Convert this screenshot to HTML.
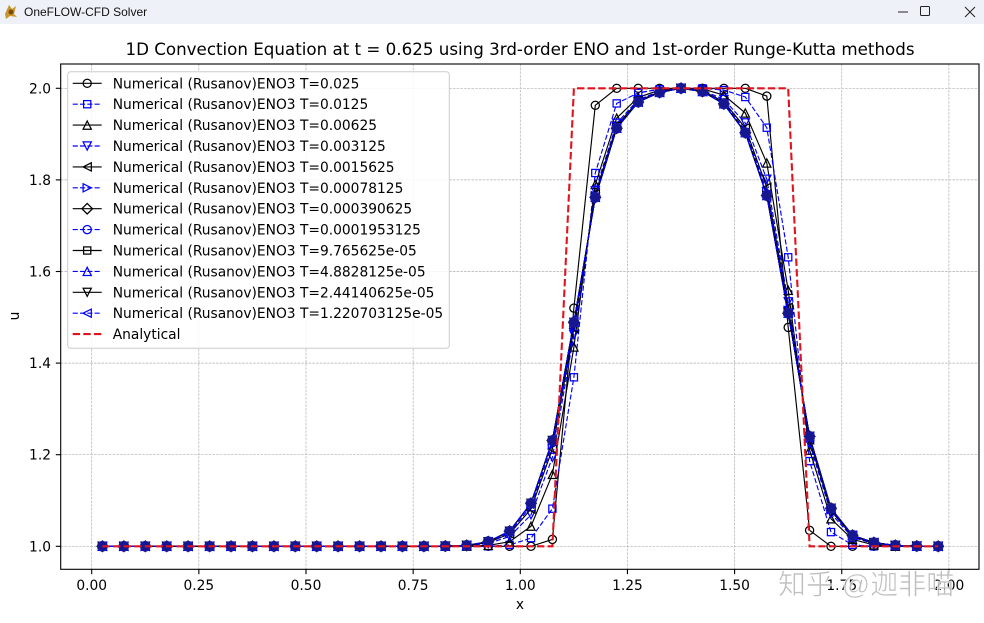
<!DOCTYPE html>
<html><head><meta charset="utf-8"><style>
html,body{margin:0;padding:0;background:#fff;}
svg{display:block;}
text{font-family:"DejaVu Sans","Liberation Sans",sans-serif;}
</style></head><body>
<svg width="984" height="623" viewBox="0 0 984 623" xmlns="http://www.w3.org/2000/svg">
<defs>
<marker id="ok" markerUnits="userSpaceOnUse" viewBox="0 0 14 14" markerWidth="14" markerHeight="14" refX="7" refY="7" orient="0" overflow="visible"><circle cx="7" cy="7" r="4.1" fill="none" stroke="#000" stroke-width="1.25"/></marker>
<marker id="ob" markerUnits="userSpaceOnUse" viewBox="0 0 14 14" markerWidth="14" markerHeight="14" refX="7" refY="7" orient="0" overflow="visible"><circle cx="7" cy="7" r="4.1" fill="none" stroke="#0000ff" stroke-width="1.25"/></marker>
<marker id="sk" markerUnits="userSpaceOnUse" viewBox="0 0 14 14" markerWidth="14" markerHeight="14" refX="7" refY="7" orient="0" overflow="visible"><rect x="3.4" y="3.4" width="7.2" height="7.2" fill="none" stroke="#000" stroke-width="1.25"/></marker>
<marker id="sb" markerUnits="userSpaceOnUse" viewBox="0 0 14 14" markerWidth="14" markerHeight="14" refX="7" refY="7" orient="0" overflow="visible"><rect x="3.4" y="3.4" width="7.2" height="7.2" fill="none" stroke="#0000ff" stroke-width="1.25"/></marker>
<marker id="uk" markerUnits="userSpaceOnUse" viewBox="0 0 14 14" markerWidth="14" markerHeight="14" refX="7" refY="7" orient="0" overflow="visible"><path d="M7 2.9L11.1 11.1L2.9 11.1Z" fill="none" stroke="#000" stroke-width="1.25"/></marker>
<marker id="ub" markerUnits="userSpaceOnUse" viewBox="0 0 14 14" markerWidth="14" markerHeight="14" refX="7" refY="7" orient="0" overflow="visible"><path d="M7 2.9L11.1 11.1L2.9 11.1Z" fill="none" stroke="#0000ff" stroke-width="1.25"/></marker>
<marker id="dk" markerUnits="userSpaceOnUse" viewBox="0 0 14 14" markerWidth="14" markerHeight="14" refX="7" refY="7" orient="0" overflow="visible"><path d="M7 11.1L11.1 2.9L2.9 2.9Z" fill="none" stroke="#000" stroke-width="1.25"/></marker>
<marker id="db" markerUnits="userSpaceOnUse" viewBox="0 0 14 14" markerWidth="14" markerHeight="14" refX="7" refY="7" orient="0" overflow="visible"><path d="M7 11.1L11.1 2.9L2.9 2.9Z" fill="none" stroke="#0000ff" stroke-width="1.25"/></marker>
<marker id="lk" markerUnits="userSpaceOnUse" viewBox="0 0 14 14" markerWidth="14" markerHeight="14" refX="7" refY="7" orient="0" overflow="visible"><path d="M2.9 7L11.1 2.9L11.1 11.1Z" fill="none" stroke="#000" stroke-width="1.25"/></marker>
<marker id="lb" markerUnits="userSpaceOnUse" viewBox="0 0 14 14" markerWidth="14" markerHeight="14" refX="7" refY="7" orient="0" overflow="visible"><path d="M2.9 7L11.1 2.9L11.1 11.1Z" fill="none" stroke="#0000ff" stroke-width="1.25"/></marker>
<marker id="rb" markerUnits="userSpaceOnUse" viewBox="0 0 14 14" markerWidth="14" markerHeight="14" refX="7" refY="7" orient="0" overflow="visible"><path d="M11.1 7L2.9 2.9L2.9 11.1Z" fill="none" stroke="#0000ff" stroke-width="1.25"/></marker>
<marker id="Dk" markerUnits="userSpaceOnUse" viewBox="0 0 14 14" markerWidth="14" markerHeight="14" refX="7" refY="7" orient="0" overflow="visible"><path d="M7 1.7L12.3 7L7 12.3L1.7 7Z" fill="none" stroke="#000" stroke-width="1.25"/></marker>
<marker id="blob" markerUnits="userSpaceOnUse" viewBox="0 0 14 14" markerWidth="14" markerHeight="14" refX="7" refY="7" orient="0" overflow="visible"><circle cx="7" cy="7" r="5.0" fill="#16168f" stroke="#2020b0" stroke-width="0.8"/><path d="M7 1.4L12.6 7L7 12.6L1.4 7Z" fill="#16168f"/></marker>
</defs>
<rect x="0" y="0" width="984" height="623" fill="#ffffff"/>
<!-- title bar -->
<rect x="0" y="0" width="984" height="24" fill="#eef2f8"/>
<path d="M5 14 L9 5 L12 9 L16 6 L14 14 L17 17 L10 16 L6 19 Z" fill="#c8962a"/>
<circle cx="11" cy="12" r="2.5" fill="#7a4a10"/>
<text x="24" y="16" font-size="12" style="font-family:'Liberation Sans','DejaVu Sans',sans-serif" fill="#111">OneFLOW-CFD Solver</text>
<line x1="898" y1="12" x2="908" y2="12" stroke="#222" stroke-width="1"/>
<rect x="920.5" y="6.5" width="9" height="9" fill="none" stroke="#222" stroke-width="1" rx="1"/>
<path d="M965 7 L975 17 M975 7 L965 17" stroke="#222" stroke-width="1"/>

<!-- title -->
<text x="520" y="55" font-size="16.7" text-anchor="middle" fill="#000">1D Convection Equation at t = 0.625 using 3rd-order ENO and 1st-order Runge-Kutta methods</text>

<!-- grid -->
<g stroke="#b0b0b0" stroke-width="0.7" stroke-dasharray="2.6,1.1" fill="none">
<line x1="91.7" y1="64" x2="91.7" y2="569.3"/>
<line x1="198.85" y1="64" x2="198.85" y2="569.3"/>
<line x1="306" y1="64" x2="306" y2="569.3"/>
<line x1="413.15" y1="64" x2="413.15" y2="569.3"/>
<line x1="520.3" y1="64" x2="520.3" y2="569.3"/>
<line x1="627.45" y1="64" x2="627.45" y2="569.3"/>
<line x1="734.6" y1="64" x2="734.6" y2="569.3"/>
<line x1="841.75" y1="64" x2="841.75" y2="569.3"/>
<line x1="948.9" y1="64" x2="948.9" y2="569.3"/>
<line x1="60.7" y1="546.3" x2="979" y2="546.3"/>
<line x1="60.7" y1="454.7" x2="979" y2="454.7"/>
<line x1="60.7" y1="363.1" x2="979" y2="363.1"/>
<line x1="60.7" y1="271.5" x2="979" y2="271.5"/>
<line x1="60.7" y1="179.9" x2="979" y2="179.9"/>
<line x1="60.7" y1="88.3" x2="979" y2="88.3"/>
</g>

<!-- series 1: black o solid -->
<polyline fill="none" stroke="#000" stroke-width="1.15" marker-start="url(#ok)" marker-mid="url(#ok)" marker-end="url(#ok)" points="102.4,546.3 123.8,546.3 145.3,546.3 166.7,546.3 188.1,546.3 209.6,546.3 231,546.3 252.4,546.3 273.9,546.3 295.3,546.3 316.7,546.3 338.1,546.3 359.6,546.3 381,546.3 402.4,546.3 423.9,546.3 445.3,546.3 466.7,546.3 488.2,546.3 509.6,546.3 531,546.3 552.4,539.4 573.9,308.1 595.3,105.3 616.7,88.3 638.2,88.3 659.6,88.3 681,88.3 702.5,88.3 723.9,88.3 745.3,88.3 766.8,96.1 788.2,327.4 809.6,530.3 831,546.3 852.5,546.3 873.9,546.3 895.3,546.3 916.8,546.3 938.2,546.3"/>
<!-- series 2: blue s dashed -->
<polyline fill="none" stroke="#0000ff" stroke-width="1.15" stroke-dasharray="5.1,2.2" marker-start="url(#sb)" marker-mid="url(#sb)" marker-end="url(#sb)" points="102.4,546.3 123.8,546.3 145.3,546.3 166.7,546.3 188.1,546.3 209.6,546.3 231,546.3 252.4,546.3 273.9,546.3 295.3,546.3 316.7,546.3 338.1,546.3 359.6,546.3 381,546.3 402.4,546.3 423.9,546.3 445.3,546.3 466.7,546.3 488.2,546.3 509.6,544.9 531,538.1 552.4,508.7 573.9,377.3 595.3,173 616.7,103.4 638.2,92.9 659.6,89.2 681,88.3 702.5,88.3 723.9,90.1 745.3,97 766.8,127.7 788.2,257.3 809.6,461.1 831,532.1 852.5,544.9 873.9,546.3 895.3,546.3 916.8,546.3 938.2,546.3"/>
<!-- series 3: black ^ solid -->
<polyline fill="none" stroke="#000" stroke-width="1.15" marker-start="url(#uk)" marker-mid="url(#uk)" marker-end="url(#uk)" points="102.4,546.3 123.8,546.3 145.3,546.3 166.7,546.3 188.1,546.3 209.6,546.3 231,546.3 252.4,546.3 273.9,546.3 295.3,546.3 316.7,546.3 338.1,546.3 359.6,546.3 381,546.3 402.4,546.3 423.9,546.3 445.3,546.3 466.7,546.1 488.2,545.4 509.6,541.7 531,526.2 552.4,474.4 573.9,347 595.3,184.5 616.7,118.1 638.2,97.4 659.6,90.1 681,88.3 702.5,88.8 723.9,95.2 745.3,113 766.8,163 788.2,290.3 809.6,450.1 831,518.8 852.5,539.4 873.9,544.9 895.3,546.3 916.8,546.3 938.2,546.3"/>
<!-- series 4: blue v dashed -->
<polyline fill="none" stroke="#0000ff" stroke-width="1.15" stroke-dasharray="5.1,2.2" marker-start="url(#db)" marker-mid="url(#db)" marker-end="url(#db)" points="102.4,546.3 123.8,546.3 145.3,546.3 166.7,546.3 188.1,546.3 209.6,546.3 231,546.3 252.4,546.3 273.9,546.3 295.3,546.3 316.7,546.3 338.1,546.3 359.6,546.3 381,546.3 402.4,546.3 423.9,546.3 445.3,546.2 466.7,545.7 488.2,543.5 509.6,536.5 531,514.8 552.4,457.4 573.9,334.7 595.3,190.9 616.7,123.2 638.2,99.7 659.6,91.3 681,88.3 702.5,90.1 723.9,99.6 745.3,122.9 766.8,179.2 788.2,301.8 809.6,443.3 831,513.6 852.5,537.4 873.9,543.7 895.3,545.9 916.8,546.2 938.2,546.3"/>
<!-- series 5: black < solid -->
<polyline fill="none" stroke="#000" stroke-width="1.15" marker-start="url(#lk)" marker-mid="url(#lk)" marker-end="url(#lk)" points="102.4,546.3 123.8,546.3 145.3,546.3 166.7,546.3 188.1,546.3 209.6,546.3 231,546.3 252.4,546.3 273.9,546.3 295.3,546.3 316.7,546.3 338.1,546.3 359.6,546.3 381,546.3 402.4,546.3 423.9,546.3 445.3,546.2 466.7,545.6 488.2,542.6 509.6,533.8 531,509 552.4,449 573.9,328.5 595.3,194.1 616.7,125.7 638.2,100.9 659.6,91.8 681,88.3 702.5,90.8 723.9,101.7 745.3,127.8 766.8,187.4 788.2,307.5 809.6,439.8 831,510.9 852.5,536.3 873.9,543.2 895.3,545.6 916.8,546.2 938.2,546.3"/>
<!-- series 6: blue > dashed -->
<polyline fill="none" stroke="#0000ff" stroke-width="1.15" stroke-dasharray="5.1,2.2" marker-start="url(#rb)" marker-mid="url(#rb)" marker-end="url(#rb)" points="102.4,546.3 123.8,546.3 145.3,546.3 166.7,546.3 188.1,546.3 209.6,546.3 231,546.3 252.4,546.3 273.9,546.3 295.3,546.3 316.7,546.3 338.1,546.3 359.6,546.3 381,546.3 402.4,546.3 423.9,546.3 445.3,546.1 466.7,545.5 488.2,542.2 509.6,532.5 531,506.2 552.4,444.7 573.9,325.4 595.3,195.7 616.7,126.9 638.2,101.4 659.6,92.1 681,88.3 702.5,91.2 723.9,102.8 745.3,130.2 766.8,191.4 788.2,310.3 809.6,438.1 831,509.6 852.5,535.8 873.9,542.9 895.3,545.5 916.8,546.1 938.2,546.3"/>
<!-- series 7: black D solid -->
<polyline fill="none" stroke="#000" stroke-width="1.15" marker-start="url(#Dk)" marker-mid="url(#Dk)" marker-end="url(#Dk)" points="102.4,546.3 123.8,546.3 145.3,546.3 166.7,546.3 188.1,546.3 209.6,546.3 231,546.3 252.4,546.3 273.9,546.3 295.3,546.3 316.7,546.3 338.1,546.3 359.6,546.3 381,546.3 402.4,546.3 423.9,546.3 445.3,546.1 466.7,545.4 488.2,541.7 509.6,531.2 531,503.3 552.4,440.5 573.9,322.3 595.3,197.3 616.7,128.2 638.2,102 659.6,92.4 681,88.3 702.5,91.5 723.9,103.9 745.3,132.7 766.8,195.5 788.2,313.2 809.6,436.4 831,508.3 852.5,535.3 873.9,542.6 895.3,545.4 916.8,546.1 938.2,546.3"/>
<!-- series 8: blue o dashed -->
<polyline fill="none" stroke="#0000ff" stroke-width="1.15" stroke-dasharray="5.1,2.2" marker-start="url(#ob)" marker-mid="url(#ob)" marker-end="url(#ob)" points="102.4,546.3 123.8,546.3 145.3,546.3 166.7,546.3 188.1,546.3 209.6,546.3 231,546.3 252.4,546.3 273.9,546.3 295.3,546.3 316.7,546.3 338.1,546.3 359.6,546.3 381,546.3 402.4,546.3 423.9,546.3 445.3,546.1 466.7,545.4 488.2,541.7 509.6,531.2 531,503.3 552.4,440.5 573.9,322.3 595.3,197.3 616.7,128.2 638.2,102 659.6,92.4 681,88.3 702.5,91.5 723.9,103.9 745.3,132.7 766.8,195.5 788.2,313.2 809.6,436.4 831,508.3 852.5,535.3 873.9,542.6 895.3,545.4 916.8,546.1 938.2,546.3"/>
<!-- series 9: black s solid -->
<polyline fill="none" stroke="#000" stroke-width="1.15" marker-start="url(#sk)" marker-mid="url(#sk)" marker-end="url(#sk)" points="102.4,546.3 123.8,546.3 145.3,546.3 166.7,546.3 188.1,546.3 209.6,546.3 231,546.3 252.4,546.3 273.9,546.3 295.3,546.3 316.7,546.3 338.1,546.3 359.6,546.3 381,546.3 402.4,546.3 423.9,546.3 445.3,546.1 466.7,545.4 488.2,541.7 509.6,531.2 531,503.3 552.4,440.5 573.9,322.3 595.3,197.3 616.7,128.2 638.2,102 659.6,92.4 681,88.3 702.5,91.5 723.9,103.9 745.3,132.7 766.8,195.5 788.2,313.2 809.6,436.4 831,508.3 852.5,535.3 873.9,542.6 895.3,545.4 916.8,546.1 938.2,546.3"/>
<!-- series 10: blue ^ dashed -->
<polyline fill="none" stroke="#0000ff" stroke-width="1.15" stroke-dasharray="5.1,2.2" marker-start="url(#ub)" marker-mid="url(#ub)" marker-end="url(#ub)" points="102.4,546.3 123.8,546.3 145.3,546.3 166.7,546.3 188.1,546.3 209.6,546.3 231,546.3 252.4,546.3 273.9,546.3 295.3,546.3 316.7,546.3 338.1,546.3 359.6,546.3 381,546.3 402.4,546.3 423.9,546.3 445.3,546.1 466.7,545.4 488.2,541.7 509.6,531.2 531,503.3 552.4,440.5 573.9,322.3 595.3,197.3 616.7,128.2 638.2,102 659.6,92.4 681,88.3 702.5,91.5 723.9,103.9 745.3,132.7 766.8,195.5 788.2,313.2 809.6,436.4 831,508.3 852.5,535.3 873.9,542.6 895.3,545.4 916.8,546.1 938.2,546.3"/>
<!-- series 11: black v solid -->
<polyline fill="none" stroke="#000" stroke-width="1.15" marker-start="url(#dk)" marker-mid="url(#dk)" marker-end="url(#dk)" points="102.4,546.3 123.8,546.3 145.3,546.3 166.7,546.3 188.1,546.3 209.6,546.3 231,546.3 252.4,546.3 273.9,546.3 295.3,546.3 316.7,546.3 338.1,546.3 359.6,546.3 381,546.3 402.4,546.3 423.9,546.3 445.3,546.1 466.7,545.4 488.2,541.7 509.6,531.2 531,503.3 552.4,440.5 573.9,322.3 595.3,197.3 616.7,128.2 638.2,102 659.6,92.4 681,88.3 702.5,91.5 723.9,103.9 745.3,132.7 766.8,195.5 788.2,313.2 809.6,436.4 831,508.3 852.5,535.3 873.9,542.6 895.3,545.4 916.8,546.1 938.2,546.3"/>
<!-- series 12: blue < dashed -->
<polyline fill="none" stroke="#0000ff" stroke-width="1.15" stroke-dasharray="5.1,2.2" marker-start="url(#lb)" marker-mid="url(#lb)" marker-end="url(#lb)" points="102.4,546.3 123.8,546.3 145.3,546.3 166.7,546.3 188.1,546.3 209.6,546.3 231,546.3 252.4,546.3 273.9,546.3 295.3,546.3 316.7,546.3 338.1,546.3 359.6,546.3 381,546.3 402.4,546.3 423.9,546.3 445.3,546.1 466.7,545.4 488.2,541.7 509.6,531.2 531,503.3 552.4,440.5 573.9,322.3 595.3,197.3 616.7,128.2 638.2,102 659.6,92.4 681,88.3 702.5,91.5 723.9,103.9 745.3,132.7 766.8,195.5 788.2,313.2 809.6,436.4 831,508.3 852.5,535.3 873.9,542.6 895.3,545.4 916.8,546.1 938.2,546.3"/>

<!-- blobs (overlapping converged markers) -->
<polyline fill="none" stroke="none" marker-start="url(#blob)" marker-mid="url(#blob)" marker-end="url(#blob)" points="102.4,546.3 123.8,546.3 145.3,546.3 166.7,546.3 188.1,546.3 209.6,546.3 231,546.3 252.4,546.3 273.9,546.3 295.3,546.3 316.7,546.3 338.1,546.3 359.6,546.3 381,546.3 402.4,546.3 423.9,546.3 445.3,546.1 466.7,545.4 488.2,541.7 509.6,531.2 531,503.3 552.4,440.5 573.9,322.3 595.3,197.3 616.7,128.2 638.2,102 659.6,92.4 681,88.3 702.5,91.5 723.9,103.9 745.3,132.7 766.8,195.5 788.2,313.2 809.6,436.4 831,508.3 852.5,535.3 873.9,542.6 895.3,545.4 916.8,546.1 938.2,546.3"/>

<!-- analytical -->
<polyline fill="none" stroke="#e0141e" stroke-width="2.1" stroke-dasharray="7.4,3.2" points="102.4,546.3 552.4,546.3 573.9,88.3 788.2,88.3 809.6,546.3 938.2,546.3"/>

<!-- axes spines -->
<rect x="60.7" y="64" width="918.3" height="505.3" fill="none" stroke="#000" stroke-width="1.1"/>
<g stroke="#000" stroke-width="1.1">
<line x1="91.7" y1="569.3" x2="91.7" y2="574.2"/>
<line x1="198.85" y1="569.3" x2="198.85" y2="574.2"/>
<line x1="306" y1="569.3" x2="306" y2="574.2"/>
<line x1="413.15" y1="569.3" x2="413.15" y2="574.2"/>
<line x1="520.3" y1="569.3" x2="520.3" y2="574.2"/>
<line x1="627.45" y1="569.3" x2="627.45" y2="574.2"/>
<line x1="734.6" y1="569.3" x2="734.6" y2="574.2"/>
<line x1="841.75" y1="569.3" x2="841.75" y2="574.2"/>
<line x1="948.9" y1="569.3" x2="948.9" y2="574.2"/>
<line x1="55.8" y1="546.3" x2="60.7" y2="546.3"/>
<line x1="55.8" y1="454.7" x2="60.7" y2="454.7"/>
<line x1="55.8" y1="363.1" x2="60.7" y2="363.1"/>
<line x1="55.8" y1="271.5" x2="60.7" y2="271.5"/>
<line x1="55.8" y1="179.9" x2="60.7" y2="179.9"/>
<line x1="55.8" y1="88.3" x2="60.7" y2="88.3"/>
</g>
<g font-size="13.8" fill="#000" text-anchor="middle">
<text x="91.7" y="590">0.00</text>
<text x="198.85" y="590">0.25</text>
<text x="306" y="590">0.50</text>
<text x="413.15" y="590">0.75</text>
<text x="520.3" y="590">1.00</text>
<text x="627.45" y="590">1.25</text>
<text x="734.6" y="590">1.50</text>
<text x="841.75" y="590">1.75</text>
<text x="948.9" y="590">2.00</text>
</g>
<g font-size="13.8" fill="#000" text-anchor="end">
<text x="51" y="551.3">1.0</text>
<text x="51" y="459.7">1.2</text>
<text x="51" y="368.1">1.4</text>
<text x="51" y="276.5">1.6</text>
<text x="51" y="184.9">1.8</text>
<text x="51" y="93.3">2.0</text>
</g>
<text x="520" y="609" font-size="13.8" text-anchor="middle" fill="#000">x</text>
<text x="0" y="0" font-size="13.8" text-anchor="middle" fill="#000" transform="translate(19,316) rotate(-90)">u</text>

<!-- legend -->
<rect x="67.7" y="71.7" width="381.6" height="276.6" rx="3" ry="3" fill="#ffffff" fill-opacity="0.85" stroke="#cccccc" stroke-width="1"/>
<g fill="none" stroke-width="1.15">
<polyline stroke="#000" points="72.7,83.3 87.2,83.3 101.7,83.3" marker-mid="url(#ok)"/>
<polyline stroke="#0000ff" stroke-dasharray="5.1,2.2" points="72.7,104.2 87.2,104.2 101.7,104.2" marker-mid="url(#sb)"/>
<polyline stroke="#000" points="72.7,125.1 87.2,125.1 101.7,125.1" marker-mid="url(#uk)"/>
<polyline stroke="#0000ff" stroke-dasharray="5.1,2.2" points="72.7,146 87.2,146 101.7,146" marker-mid="url(#db)"/>
<polyline stroke="#000" points="72.7,166.9 87.2,166.9 101.7,166.9" marker-mid="url(#lk)"/>
<polyline stroke="#0000ff" stroke-dasharray="5.1,2.2" points="72.7,187.8 87.2,187.8 101.7,187.8" marker-mid="url(#rb)"/>
<polyline stroke="#000" points="72.7,208.7 87.2,208.7 101.7,208.7" marker-mid="url(#Dk)"/>
<polyline stroke="#0000ff" stroke-dasharray="5.1,2.2" points="72.7,229.6 87.2,229.6 101.7,229.6" marker-mid="url(#ob)"/>
<polyline stroke="#000" points="72.7,250.5 87.2,250.5 101.7,250.5" marker-mid="url(#sk)"/>
<polyline stroke="#0000ff" stroke-dasharray="5.1,2.2" points="72.7,271.4 87.2,271.4 101.7,271.4" marker-mid="url(#ub)"/>
<polyline stroke="#000" points="72.7,292.3 87.2,292.3 101.7,292.3" marker-mid="url(#dk)"/>
<polyline stroke="#0000ff" stroke-dasharray="5.1,2.2" points="72.7,313.2 87.2,313.2 101.7,313.2" marker-mid="url(#lb)"/>
<line x1="72.7" y1="334.1" x2="101.7" y2="334.1" stroke="#e0141e" stroke-width="2.1" stroke-dasharray="7.4,3.2"/>
</g>
<g font-size="13.8" fill="#000">
<text x="112.7" y="88.3">Numerical (Rusanov)ENO3 T=0.025</text>
<text x="112.7" y="109.2">Numerical (Rusanov)ENO3 T=0.0125</text>
<text x="112.7" y="130.1">Numerical (Rusanov)ENO3 T=0.00625</text>
<text x="112.7" y="151.0">Numerical (Rusanov)ENO3 T=0.003125</text>
<text x="112.7" y="171.9">Numerical (Rusanov)ENO3 T=0.0015625</text>
<text x="112.7" y="192.8">Numerical (Rusanov)ENO3 T=0.00078125</text>
<text x="112.7" y="213.7">Numerical (Rusanov)ENO3 T=0.000390625</text>
<text x="112.7" y="234.6">Numerical (Rusanov)ENO3 T=0.0001953125</text>
<text x="112.7" y="255.5">Numerical (Rusanov)ENO3 T=9.765625e-05</text>
<text x="112.7" y="276.4">Numerical (Rusanov)ENO3 T=4.8828125e-05</text>
<text x="112.7" y="297.3">Numerical (Rusanov)ENO3 T=2.44140625e-05</text>
<text x="112.7" y="318.2">Numerical (Rusanov)ENO3 T=1.220703125e-05</text>
<text x="112.7" y="339.1">Analytical</text>
</g>

<!-- watermark -->
<text x="778" y="594" font-size="28" fill="#b4b4b4" fill-opacity="0.85" stroke="#ffffff" stroke-width="0.6" style="font-family:'Liberation Sans','Noto Sans CJK SC',sans-serif">知乎 @迦非喵</text>
</svg>
</body></html>
